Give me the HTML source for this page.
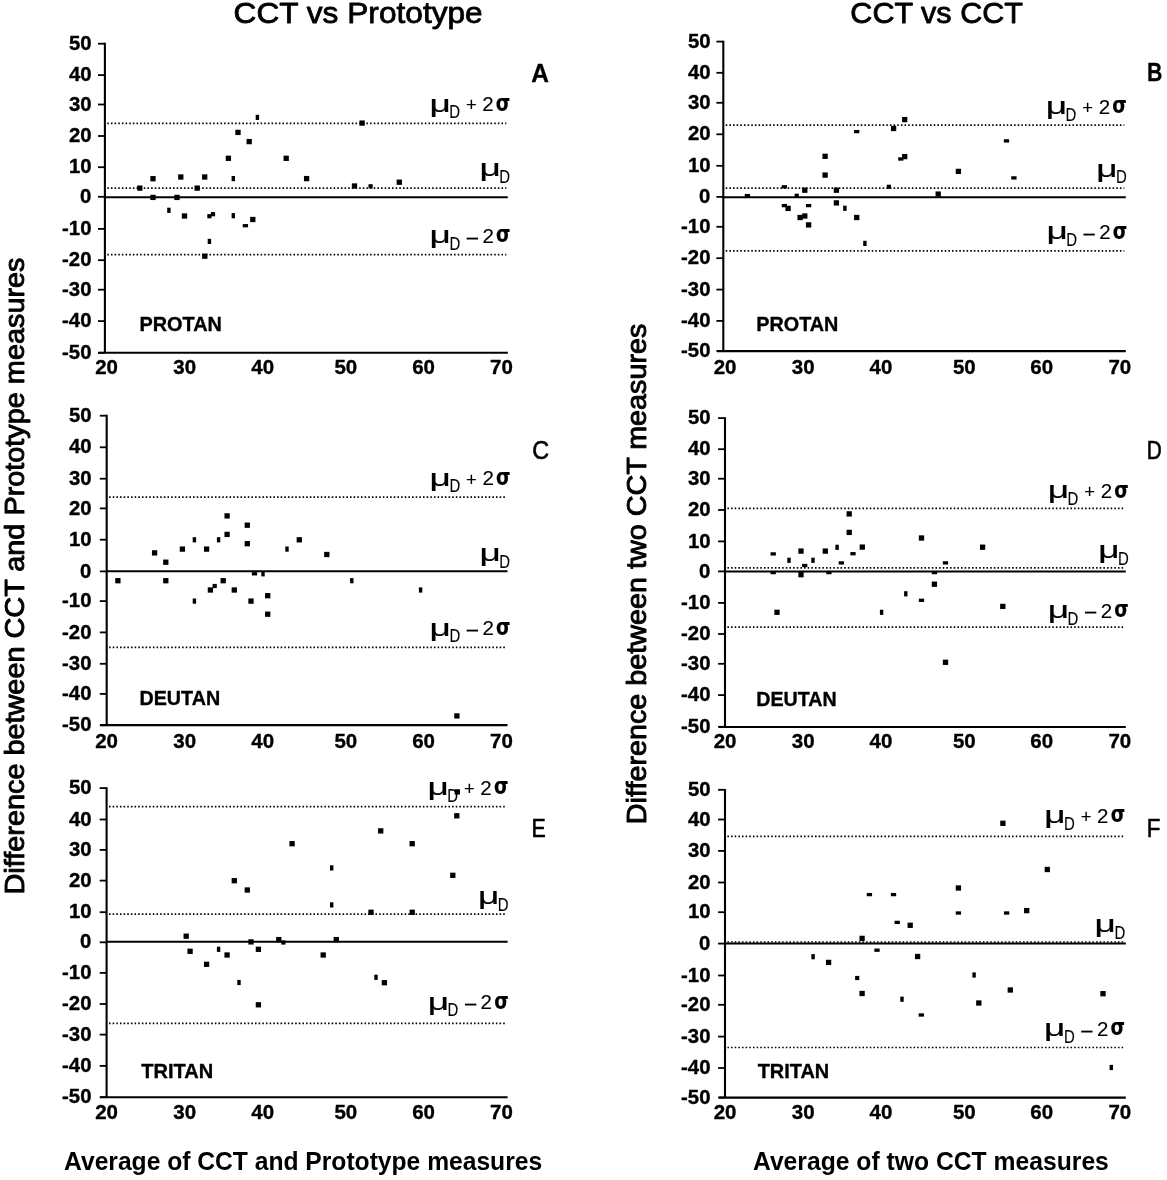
<!DOCTYPE html><html><head><meta charset="utf-8"><title>Bland-Altman plots: CCT vs Prototype and CCT vs CCT</title>
<style>html,body{margin:0;padding:0;background:#fff;width:1167px;height:1180px;overflow:hidden}svg{display:block}</style></head><body>
<svg width="1167" height="1180" viewBox="0 0 1167 1180">
<rect x="0" y="0" width="1167" height="1180" fill="#fff"/>
<g fill="#000">
<g stroke="#000" fill="none">
<line x1="104.9" y1="42.8" x2="104.9" y2="352.8" stroke-width="2.1"/>
<line x1="98.0" y1="43.7" x2="104.9" y2="43.7" stroke-width="1.8"/>
<line x1="98.0" y1="75.1" x2="104.9" y2="75.1" stroke-width="1.8"/>
<line x1="98.0" y1="104.5" x2="104.9" y2="104.5" stroke-width="1.8"/>
<line x1="98.0" y1="136" x2="104.9" y2="136" stroke-width="1.8"/>
<line x1="98.0" y1="167.2" x2="104.9" y2="167.2" stroke-width="1.8"/>
<line x1="98.0" y1="196.8" x2="104.9" y2="196.8" stroke-width="1.8"/>
<line x1="98.0" y1="228.9" x2="104.9" y2="228.9" stroke-width="1.8"/>
<line x1="98.0" y1="260.2" x2="104.9" y2="260.2" stroke-width="1.8"/>
<line x1="98.0" y1="289.7" x2="104.9" y2="289.7" stroke-width="1.8"/>
<line x1="98.0" y1="321.1" x2="104.9" y2="321.1" stroke-width="1.8"/>
<line x1="98.0" y1="352.8" x2="104.9" y2="352.8" stroke-width="1.8"/>
<line x1="98.2" y1="352.8" x2="507.8" y2="352.8" stroke-width="2.1"/>
<line x1="104.9" y1="197.3" x2="507.8" y2="197.3" stroke-width="2.0"/>
<line x1="107.3" y1="123.3" x2="506.3" y2="123.3" stroke-width="1.7" stroke-dasharray="1.55 2.1"/>
<line x1="107.3" y1="188.1" x2="506.3" y2="188.1" stroke-width="1.7" stroke-dasharray="1.55 2.1"/>
<line x1="107.3" y1="254.7" x2="506.3" y2="254.7" stroke-width="1.7" stroke-dasharray="1.55 2.1"/>
</g>
<rect x="137.15" y="185.45" width="5.3" height="5.3"/>
<rect x="150.35" y="176.05" width="5.3" height="5.3"/>
<rect x="150.35" y="194.75" width="5.3" height="5.3"/>
<rect x="167.20" y="207.70" width="3.4" height="5.2"/>
<rect x="174.35" y="194.75" width="5.3" height="5.3"/>
<rect x="178.15" y="174.35" width="5.3" height="5.3"/>
<rect x="181.85" y="213.35" width="5.3" height="5.3"/>
<rect x="194.55" y="185.45" width="5.3" height="5.3"/>
<rect x="202.05" y="174.35" width="5.3" height="5.3"/>
<rect x="202.15" y="253.55" width="5.3" height="5.3"/>
<rect x="207.70" y="238.80" width="3.4" height="5.2"/>
<rect x="207.30" y="214.10" width="4.2" height="4.2"/>
<rect x="210.90" y="212.10" width="4.2" height="4.2"/>
<rect x="225.75" y="155.65" width="5.3" height="5.3"/>
<rect x="231.60" y="176.00" width="3.4" height="5.2"/>
<rect x="231.60" y="213.10" width="3.4" height="5.2"/>
<rect x="235.35" y="129.75" width="5.3" height="5.3"/>
<rect x="246.55" y="138.95" width="5.3" height="5.3"/>
<rect x="242.75" y="224.05" width="5.3" height="3.3"/>
<rect x="250.15" y="216.85" width="5.3" height="5.3"/>
<rect x="255.70" y="114.80" width="3.4" height="5.2"/>
<rect x="283.55" y="155.65" width="5.3" height="5.3"/>
<rect x="303.95" y="175.95" width="5.3" height="5.3"/>
<rect x="359.45" y="120.45" width="5.3" height="5.3"/>
<rect x="351.85" y="183.35" width="5.3" height="5.3"/>
<rect x="368.50" y="184.20" width="4.2" height="4.2"/>
<rect x="396.65" y="179.55" width="5.3" height="5.3"/>
<g stroke="#000" fill="none">
<line x1="723.3" y1="40.7" x2="723.3" y2="351.1" stroke-width="2.1"/>
<line x1="716.4" y1="41.6" x2="723.3" y2="41.6" stroke-width="1.8"/>
<line x1="716.4" y1="72.8" x2="723.3" y2="72.8" stroke-width="1.8"/>
<line x1="716.4" y1="102.8" x2="723.3" y2="102.8" stroke-width="1.8"/>
<line x1="716.4" y1="134.3" x2="723.3" y2="134.3" stroke-width="1.8"/>
<line x1="716.4" y1="165.8" x2="723.3" y2="165.8" stroke-width="1.8"/>
<line x1="716.4" y1="196.9" x2="723.3" y2="196.9" stroke-width="1.8"/>
<line x1="716.4" y1="226.8" x2="723.3" y2="226.8" stroke-width="1.8"/>
<line x1="716.4" y1="258.2" x2="723.3" y2="258.2" stroke-width="1.8"/>
<line x1="716.4" y1="289.6" x2="723.3" y2="289.6" stroke-width="1.8"/>
<line x1="716.4" y1="320.9" x2="723.3" y2="320.9" stroke-width="1.8"/>
<line x1="716.4" y1="351.1" x2="723.3" y2="351.1" stroke-width="1.8"/>
<line x1="717.1" y1="351.1" x2="1125.8" y2="351.1" stroke-width="2.1"/>
<line x1="723.3" y1="197.3" x2="1125.8" y2="197.3" stroke-width="2.0"/>
<line x1="725.7" y1="125.1" x2="1124.3" y2="125.1" stroke-width="1.7" stroke-dasharray="1.55 2.1"/>
<line x1="725.7" y1="188.1" x2="1124.3" y2="188.1" stroke-width="1.7" stroke-dasharray="1.55 2.1"/>
<line x1="725.7" y1="250.9" x2="1124.3" y2="250.9" stroke-width="1.7" stroke-dasharray="1.55 2.1"/>
</g>
<rect x="744.75" y="193.95" width="5.3" height="3.3"/>
<rect x="781.75" y="185.15" width="5.3" height="3.3"/>
<rect x="781.75" y="203.95" width="5.3" height="3.3"/>
<rect x="785.45" y="205.75" width="5.3" height="5.3"/>
<rect x="794.60" y="193.70" width="4.2" height="4.2"/>
<rect x="802.15" y="187.55" width="5.3" height="5.3"/>
<rect x="797.45" y="214.85" width="5.3" height="5.3"/>
<rect x="802.15" y="213.35" width="5.3" height="5.3"/>
<rect x="805.95" y="203.95" width="5.3" height="3.3"/>
<rect x="805.95" y="222.25" width="5.3" height="5.3"/>
<rect x="822.45" y="153.65" width="5.3" height="5.3"/>
<rect x="822.45" y="172.45" width="5.3" height="5.3"/>
<rect x="833.75" y="187.55" width="5.3" height="5.3"/>
<rect x="833.75" y="200.25" width="5.3" height="5.3"/>
<rect x="843.20" y="205.70" width="3.4" height="5.2"/>
<rect x="854.05" y="129.95" width="5.3" height="3.3"/>
<rect x="854.05" y="214.85" width="5.3" height="5.3"/>
<rect x="863.20" y="240.80" width="3.4" height="5.2"/>
<rect x="890.95" y="125.85" width="5.3" height="5.3"/>
<rect x="886.80" y="184.70" width="4.2" height="4.2"/>
<rect x="902.05" y="116.95" width="5.3" height="5.3"/>
<rect x="902.05" y="153.95" width="5.3" height="5.3"/>
<rect x="898.15" y="157.35" width="5.3" height="3.3"/>
<rect x="935.55" y="191.45" width="5.3" height="5.3"/>
<rect x="955.75" y="168.75" width="5.3" height="5.3"/>
<rect x="1003.85" y="139.25" width="5.3" height="3.3"/>
<rect x="1011.25" y="176.25" width="5.3" height="3.3"/>
<g stroke="#000" fill="none">
<line x1="106.7" y1="414.8" x2="106.7" y2="725.1" stroke-width="2.1"/>
<line x1="99.8" y1="415.7" x2="106.7" y2="415.7" stroke-width="1.8"/>
<line x1="99.8" y1="447.3" x2="106.7" y2="447.3" stroke-width="1.8"/>
<line x1="99.8" y1="478.7" x2="106.7" y2="478.7" stroke-width="1.8"/>
<line x1="99.8" y1="508.4" x2="106.7" y2="508.4" stroke-width="1.8"/>
<line x1="99.8" y1="539.7" x2="106.7" y2="539.7" stroke-width="1.8"/>
<line x1="99.8" y1="571.4" x2="106.7" y2="571.4" stroke-width="1.8"/>
<line x1="99.8" y1="601.1" x2="106.7" y2="601.1" stroke-width="1.8"/>
<line x1="99.8" y1="632.4" x2="106.7" y2="632.4" stroke-width="1.8"/>
<line x1="99.8" y1="663.8" x2="106.7" y2="663.8" stroke-width="1.8"/>
<line x1="99.8" y1="693.9" x2="106.7" y2="693.9" stroke-width="1.8"/>
<line x1="99.8" y1="725.2" x2="106.7" y2="725.2" stroke-width="1.8"/>
<line x1="100.4" y1="725.1" x2="507.5" y2="725.1" stroke-width="2.1"/>
<line x1="106.7" y1="571.3" x2="507.5" y2="571.3" stroke-width="2.0"/>
<line x1="109.1" y1="497.1" x2="506.0" y2="497.1" stroke-width="1.7" stroke-dasharray="1.55 2.1"/>
<line x1="109.1" y1="647.4" x2="506.0" y2="647.4" stroke-width="1.7" stroke-dasharray="1.55 2.1"/>
</g>
<rect x="115.25" y="578.05" width="5.3" height="5.3"/>
<rect x="151.95" y="550.25" width="5.3" height="5.3"/>
<rect x="163.15" y="559.55" width="5.3" height="5.3"/>
<rect x="163.15" y="578.05" width="5.3" height="5.3"/>
<rect x="179.75" y="546.45" width="5.3" height="5.3"/>
<rect x="192.70" y="537.20" width="3.4" height="5.2"/>
<rect x="192.70" y="598.50" width="3.4" height="5.2"/>
<rect x="203.95" y="546.45" width="5.3" height="5.3"/>
<rect x="207.75" y="587.35" width="5.3" height="5.3"/>
<rect x="212.60" y="583.90" width="4.2" height="4.2"/>
<rect x="216.90" y="537.20" width="3.4" height="5.2"/>
<rect x="220.55" y="578.05" width="5.3" height="5.3"/>
<rect x="224.45" y="513.25" width="5.3" height="5.3"/>
<rect x="224.45" y="531.75" width="5.3" height="5.3"/>
<rect x="231.65" y="587.35" width="5.3" height="5.3"/>
<rect x="244.65" y="522.55" width="5.3" height="5.3"/>
<rect x="244.65" y="541.05" width="5.3" height="5.3"/>
<rect x="248.35" y="598.45" width="5.3" height="5.3"/>
<rect x="251.85" y="572.15" width="5.3" height="3.3"/>
<rect x="261.30" y="571.20" width="3.4" height="5.2"/>
<rect x="265.05" y="593.05" width="5.3" height="5.3"/>
<rect x="265.05" y="611.55" width="5.3" height="5.3"/>
<rect x="285.30" y="546.50" width="3.4" height="5.2"/>
<rect x="296.65" y="537.15" width="5.3" height="5.3"/>
<rect x="324.15" y="551.85" width="5.3" height="5.3"/>
<rect x="350.10" y="578.10" width="3.4" height="5.2"/>
<rect x="418.90" y="587.40" width="3.4" height="5.2"/>
<rect x="454.25" y="713.25" width="5.3" height="5.3"/>
<g stroke="#000" fill="none">
<line x1="725.0" y1="417.2" x2="725.0" y2="727.0" stroke-width="2.1"/>
<line x1="718.1" y1="418.1" x2="725.0" y2="418.1" stroke-width="1.8"/>
<line x1="718.1" y1="449.2" x2="725.0" y2="449.2" stroke-width="1.8"/>
<line x1="718.1" y1="478.7" x2="725.0" y2="478.7" stroke-width="1.8"/>
<line x1="718.1" y1="510" x2="725.0" y2="510" stroke-width="1.8"/>
<line x1="718.1" y1="541.4" x2="725.0" y2="541.4" stroke-width="1.8"/>
<line x1="718.1" y1="571.4" x2="725.0" y2="571.4" stroke-width="1.8"/>
<line x1="718.1" y1="602.9" x2="725.0" y2="602.9" stroke-width="1.8"/>
<line x1="718.1" y1="634" x2="725.0" y2="634" stroke-width="1.8"/>
<line x1="718.1" y1="663.8" x2="725.0" y2="663.8" stroke-width="1.8"/>
<line x1="718.1" y1="695.1" x2="725.0" y2="695.1" stroke-width="1.8"/>
<line x1="718.1" y1="726.8" x2="725.0" y2="726.8" stroke-width="1.8"/>
<line x1="718.9" y1="727.0" x2="1125.8" y2="727.0" stroke-width="2.1"/>
<line x1="725.0" y1="571.4" x2="1125.8" y2="571.4" stroke-width="2.0"/>
<line x1="727.4" y1="508.4" x2="1124.3" y2="508.4" stroke-width="1.7" stroke-dasharray="1.55 2.1"/>
<line x1="727.4" y1="567.9" x2="1124.3" y2="567.9" stroke-width="1.7" stroke-dasharray="1.55 2.1"/>
<line x1="727.4" y1="627.1" x2="1124.3" y2="627.1" stroke-width="1.7" stroke-dasharray="1.55 2.1"/>
</g>
<rect x="770.55" y="552.25" width="5.3" height="3.3"/>
<rect x="770.55" y="570.95" width="5.3" height="3.3"/>
<rect x="774.35" y="609.65" width="5.3" height="5.3"/>
<rect x="787.30" y="557.70" width="3.4" height="5.2"/>
<rect x="798.35" y="548.45" width="5.3" height="5.3"/>
<rect x="802.05" y="563.85" width="5.3" height="3.3"/>
<rect x="798.35" y="572.05" width="5.3" height="5.3"/>
<rect x="811.30" y="557.70" width="3.4" height="5.2"/>
<rect x="822.65" y="548.45" width="5.3" height="5.3"/>
<rect x="826.25" y="570.95" width="5.3" height="3.3"/>
<rect x="835.40" y="544.70" width="3.4" height="5.2"/>
<rect x="838.65" y="561.25" width="5.3" height="3.3"/>
<rect x="846.55" y="511.25" width="5.3" height="5.3"/>
<rect x="846.55" y="529.75" width="5.3" height="5.3"/>
<rect x="850.35" y="552.05" width="5.3" height="3.3"/>
<rect x="859.65" y="544.45" width="5.3" height="5.3"/>
<rect x="879.90" y="609.70" width="3.4" height="5.2"/>
<rect x="904.10" y="591.20" width="3.4" height="5.2"/>
<rect x="918.85" y="535.35" width="5.3" height="5.3"/>
<rect x="918.85" y="598.65" width="5.3" height="3.3"/>
<rect x="931.75" y="570.95" width="5.3" height="3.3"/>
<rect x="931.75" y="581.55" width="5.3" height="5.3"/>
<rect x="942.85" y="561.25" width="5.3" height="3.3"/>
<rect x="942.85" y="659.65" width="5.3" height="5.3"/>
<rect x="979.95" y="544.55" width="5.3" height="5.3"/>
<rect x="1000.15" y="603.75" width="5.3" height="5.3"/>
<g stroke="#000" fill="none">
<line x1="106.6" y1="787.2" x2="106.6" y2="1097.3" stroke-width="2.1"/>
<line x1="99.7" y1="788.1" x2="106.6" y2="788.1" stroke-width="1.8"/>
<line x1="99.7" y1="819.5" x2="106.6" y2="819.5" stroke-width="1.8"/>
<line x1="99.7" y1="849.9" x2="106.6" y2="849.9" stroke-width="1.8"/>
<line x1="99.7" y1="880.6" x2="106.6" y2="880.6" stroke-width="1.8"/>
<line x1="99.7" y1="912.2" x2="106.6" y2="912.2" stroke-width="1.8"/>
<line x1="99.7" y1="942.3" x2="106.6" y2="942.3" stroke-width="1.8"/>
<line x1="99.7" y1="972.9" x2="106.6" y2="972.9" stroke-width="1.8"/>
<line x1="99.7" y1="1004" x2="106.6" y2="1004" stroke-width="1.8"/>
<line x1="99.7" y1="1034.6" x2="106.6" y2="1034.6" stroke-width="1.8"/>
<line x1="99.7" y1="1065.9" x2="106.6" y2="1065.9" stroke-width="1.8"/>
<line x1="99.7" y1="1097.2" x2="106.6" y2="1097.2" stroke-width="1.8"/>
<line x1="100.2" y1="1097.3" x2="507.6" y2="1097.3" stroke-width="2.1"/>
<line x1="106.6" y1="941.7" x2="507.6" y2="941.7" stroke-width="2.0"/>
<line x1="109.0" y1="806.7" x2="506.1" y2="806.7" stroke-width="1.7" stroke-dasharray="1.55 2.1"/>
<line x1="109.0" y1="914.1" x2="506.1" y2="914.1" stroke-width="1.7" stroke-dasharray="1.55 2.1"/>
<line x1="109.0" y1="1023.4" x2="506.1" y2="1023.4" stroke-width="1.7" stroke-dasharray="1.55 2.1"/>
</g>
<rect x="231.65" y="878.05" width="5.3" height="5.3"/>
<rect x="244.65" y="887.35" width="5.3" height="5.3"/>
<rect x="183.55" y="933.55" width="5.3" height="5.3"/>
<rect x="248.35" y="939.25" width="5.3" height="5.3"/>
<rect x="276.15" y="936.95" width="5.3" height="5.3"/>
<rect x="281.30" y="940.40" width="4.2" height="4.2"/>
<rect x="187.45" y="948.65" width="5.3" height="5.3"/>
<rect x="203.95" y="961.65" width="5.3" height="5.3"/>
<rect x="216.90" y="946.70" width="3.4" height="5.2"/>
<rect x="224.45" y="952.35" width="5.3" height="5.3"/>
<rect x="237.30" y="979.90" width="3.4" height="5.2"/>
<rect x="255.75" y="946.65" width="5.3" height="5.3"/>
<rect x="255.75" y="1002.15" width="5.3" height="5.3"/>
<rect x="289.45" y="841.05" width="5.3" height="5.3"/>
<rect x="330.00" y="865.30" width="3.4" height="5.2"/>
<rect x="330.00" y="902.30" width="3.4" height="5.2"/>
<rect x="333.65" y="936.95" width="5.3" height="5.3"/>
<rect x="378.05" y="828.25" width="5.3" height="5.3"/>
<rect x="368.35" y="909.65" width="5.3" height="5.3"/>
<rect x="409.55" y="841.05" width="5.3" height="5.3"/>
<rect x="409.55" y="909.65" width="5.3" height="5.3"/>
<rect x="320.55" y="952.35" width="5.3" height="5.3"/>
<rect x="374.30" y="974.70" width="3.4" height="5.2"/>
<rect x="381.75" y="980.05" width="5.3" height="5.3"/>
<rect x="454.65" y="789.25" width="5.3" height="5.3"/>
<rect x="454.15" y="813.15" width="5.3" height="5.3"/>
<rect x="450.15" y="872.65" width="5.3" height="5.3"/>
<g stroke="#000" fill="none">
<line x1="725.0" y1="788.9" x2="725.0" y2="1097.6" stroke-width="2.1"/>
<line x1="718.1" y1="789.8" x2="725.0" y2="789.8" stroke-width="1.8"/>
<line x1="718.1" y1="819.5" x2="725.0" y2="819.5" stroke-width="1.8"/>
<line x1="718.1" y1="850.9" x2="725.0" y2="850.9" stroke-width="1.8"/>
<line x1="718.1" y1="882.5" x2="725.0" y2="882.5" stroke-width="1.8"/>
<line x1="718.1" y1="912.2" x2="725.0" y2="912.2" stroke-width="1.8"/>
<line x1="718.1" y1="943.6" x2="725.0" y2="943.6" stroke-width="1.8"/>
<line x1="718.1" y1="975.5" x2="725.0" y2="975.5" stroke-width="1.8"/>
<line x1="718.1" y1="1004.8" x2="725.0" y2="1004.8" stroke-width="1.8"/>
<line x1="718.1" y1="1036.6" x2="725.0" y2="1036.6" stroke-width="1.8"/>
<line x1="718.1" y1="1068" x2="725.0" y2="1068" stroke-width="1.8"/>
<line x1="718.1" y1="1097.5" x2="725.0" y2="1097.5" stroke-width="1.8"/>
<line x1="718.9" y1="1097.6" x2="1125.8" y2="1097.6" stroke-width="2.1"/>
<line x1="725.0" y1="943.6" x2="1125.8" y2="943.6" stroke-width="2.0"/>
<line x1="727.4" y1="836.3" x2="1124.3" y2="836.3" stroke-width="1.7" stroke-dasharray="1.55 2.1"/>
<line x1="727.4" y1="942.0" x2="1124.3" y2="942.0" stroke-width="1.7" stroke-dasharray="1.55 2.1"/>
<line x1="727.4" y1="1047.5" x2="1124.3" y2="1047.5" stroke-width="1.7" stroke-dasharray="1.55 2.1"/>
</g>
<rect x="811.40" y="954.10" width="3.4" height="5.2"/>
<rect x="825.95" y="959.75" width="5.3" height="5.3"/>
<rect x="855.10" y="975.90" width="4.2" height="4.2"/>
<rect x="859.45" y="935.75" width="5.3" height="5.3"/>
<rect x="859.45" y="990.85" width="5.3" height="5.3"/>
<rect x="866.75" y="892.95" width="5.3" height="3.3"/>
<rect x="874.35" y="948.55" width="5.3" height="3.3"/>
<rect x="890.85" y="892.95" width="5.3" height="3.3"/>
<rect x="894.55" y="920.75" width="5.3" height="3.3"/>
<rect x="900.30" y="996.60" width="3.4" height="5.2"/>
<rect x="907.55" y="922.65" width="5.3" height="5.3"/>
<rect x="914.95" y="953.85" width="5.3" height="5.3"/>
<rect x="918.65" y="1013.35" width="5.3" height="3.3"/>
<rect x="955.75" y="885.35" width="5.3" height="5.3"/>
<rect x="955.75" y="911.35" width="5.3" height="3.3"/>
<rect x="972.40" y="972.40" width="3.4" height="5.2"/>
<rect x="976.15" y="1000.35" width="5.3" height="5.3"/>
<rect x="1000.25" y="820.65" width="5.3" height="5.3"/>
<rect x="1003.95" y="911.35" width="5.3" height="3.3"/>
<rect x="1007.65" y="987.35" width="5.3" height="5.3"/>
<rect x="1024.05" y="907.95" width="5.3" height="5.3"/>
<rect x="1044.65" y="866.85" width="5.3" height="5.3"/>
<rect x="1100.35" y="991.05" width="5.3" height="5.3"/>
<rect x="1109.60" y="1064.90" width="3.4" height="5.2"/>
<text transform="translate(233.52 23.08) scale(1.0213 0.9809)" font-family="'Liberation Sans', sans-serif" font-weight="normal" font-size="31" stroke="#000" stroke-width="0.8" stroke-linejoin="round">CCT vs Prototype</text>
<text transform="translate(850.37 23.26) scale(0.9856 0.9802)" font-family="'Liberation Sans', sans-serif" font-weight="normal" font-size="31" stroke="#000" stroke-width="0.8" stroke-linejoin="round">CCT vs CCT</text>
<text transform="translate(23.80 894.50) rotate(-90) scale(1.0308 0.9593)" font-family="'Liberation Sans', sans-serif" font-weight="normal" font-size="28" stroke="#000" stroke-width="0.95" stroke-linejoin="round">Difference between CCT and Prototype measures</text>
<text transform="translate(646.08 824.20) rotate(-90) scale(1.0269 0.9581)" font-family="'Liberation Sans', sans-serif" font-weight="normal" font-size="28" stroke="#000" stroke-width="0.95" stroke-linejoin="round">Difference between two CCT measures</text>
<text transform="translate(64.06 1170.47) scale(0.9855 1.0151)" font-family="'Liberation Sans', sans-serif" font-weight="bold" font-size="25">Average of CCT and Prototype measures</text>
<text transform="translate(752.96 1170.47) scale(0.9883 1.0151)" font-family="'Liberation Sans', sans-serif" font-weight="bold" font-size="25">Average of two CCT measures</text>
<text transform="translate(68.92 49.80) scale(1.0175)" font-family="'Liberation Sans', sans-serif" font-weight="bold" font-size="20" stroke="#000" stroke-width="0.35" stroke-linejoin="round">50</text>
<text transform="translate(68.92 81.20) scale(1.0175)" font-family="'Liberation Sans', sans-serif" font-weight="bold" font-size="20" stroke="#000" stroke-width="0.35" stroke-linejoin="round">40</text>
<text transform="translate(68.92 110.60) scale(1.0175)" font-family="'Liberation Sans', sans-serif" font-weight="bold" font-size="20" stroke="#000" stroke-width="0.35" stroke-linejoin="round">30</text>
<text transform="translate(68.92 142.10) scale(1.0175)" font-family="'Liberation Sans', sans-serif" font-weight="bold" font-size="20" stroke="#000" stroke-width="0.35" stroke-linejoin="round">20</text>
<text transform="translate(68.92 173.30) scale(1.0175)" font-family="'Liberation Sans', sans-serif" font-weight="bold" font-size="20" stroke="#000" stroke-width="0.35" stroke-linejoin="round">10</text>
<text transform="translate(80.12 202.90) scale(1.0175)" font-family="'Liberation Sans', sans-serif" font-weight="bold" font-size="20" stroke="#000" stroke-width="0.35" stroke-linejoin="round">0</text>
<text transform="translate(62.05 235.00) scale(1.0175)" font-family="'Liberation Sans', sans-serif" font-weight="bold" font-size="20" stroke="#000" stroke-width="0.35" stroke-linejoin="round">-10</text>
<text transform="translate(62.05 266.30) scale(1.0175)" font-family="'Liberation Sans', sans-serif" font-weight="bold" font-size="20" stroke="#000" stroke-width="0.35" stroke-linejoin="round">-20</text>
<text transform="translate(62.05 295.80) scale(1.0175)" font-family="'Liberation Sans', sans-serif" font-weight="bold" font-size="20" stroke="#000" stroke-width="0.35" stroke-linejoin="round">-30</text>
<text transform="translate(62.05 327.20) scale(1.0175)" font-family="'Liberation Sans', sans-serif" font-weight="bold" font-size="20" stroke="#000" stroke-width="0.35" stroke-linejoin="round">-40</text>
<text transform="translate(62.05 358.90) scale(1.0175)" font-family="'Liberation Sans', sans-serif" font-weight="bold" font-size="20" stroke="#000" stroke-width="0.35" stroke-linejoin="round">-50</text>
<text transform="translate(95.23 373.64) scale(1.0246)" font-family="'Liberation Sans', sans-serif" font-weight="bold" font-size="20" stroke="#000" stroke-width="0.35" stroke-linejoin="round">20</text>
<text transform="translate(173.36 373.64) scale(1.0246)" font-family="'Liberation Sans', sans-serif" font-weight="bold" font-size="20" stroke="#000" stroke-width="0.35" stroke-linejoin="round">30</text>
<text transform="translate(251.26 373.64) scale(1.0246)" font-family="'Liberation Sans', sans-serif" font-weight="bold" font-size="20" stroke="#000" stroke-width="0.35" stroke-linejoin="round">40</text>
<text transform="translate(334.43 373.64) scale(1.0246)" font-family="'Liberation Sans', sans-serif" font-weight="bold" font-size="20" stroke="#000" stroke-width="0.35" stroke-linejoin="round">50</text>
<text transform="translate(412.13 373.64) scale(1.0246)" font-family="'Liberation Sans', sans-serif" font-weight="bold" font-size="20" stroke="#000" stroke-width="0.35" stroke-linejoin="round">60</text>
<text transform="translate(490.00 373.64) scale(1.0246)" font-family="'Liberation Sans', sans-serif" font-weight="bold" font-size="20" stroke="#000" stroke-width="0.35" stroke-linejoin="round">70</text>
<text transform="translate(531.21 81.60) scale(0.9824 1.0667)" font-family="'Liberation Sans', sans-serif" font-weight="bold" font-size="25" stroke="#000" stroke-width="0.3" stroke-linejoin="round">A</text>
<text transform="translate(139.46 330.75) scale(0.9950 0.9895)" font-family="'Liberation Sans', sans-serif" font-weight="bold" font-size="20" stroke="#000" stroke-width="0.35" stroke-linejoin="round">PROTAN</text>
<text transform="translate(429.39 111.56) scale(1.6098 1.0746)" font-family="'Liberation Sans', sans-serif" font-weight="normal" font-size="23" stroke="#000" stroke-width="0.2" stroke-linejoin="round">μ</text>
<text transform="translate(449.20 118.20) scale(0.8780 1.0298)" font-family="'Liberation Sans', sans-serif" font-weight="normal" font-size="17" stroke="#000" stroke-width="0.1" stroke-linejoin="round">D</text>
<text transform="translate(465.89 111.32) scale(1.0824 1.0824)" font-family="'Liberation Sans', sans-serif" font-weight="normal" font-size="17" stroke="#000" stroke-width="0.1" stroke-linejoin="round">+</text>
<text transform="translate(482.27 111.20) scale(1.0270 1.0286)" font-family="'Liberation Sans', sans-serif" font-weight="normal" font-size="20" stroke="#000" stroke-width="0.1" stroke-linejoin="round">2</text>
<text transform="translate(495.87 110.70) scale(0.8459 1.0080)" font-family="'DejaVu Sans', sans-serif" font-weight="bold" font-size="22" stroke="#000" stroke-width="0.2" stroke-linejoin="round">σ</text>
<text transform="translate(479.39 176.36) scale(1.6098 1.0746)" font-family="'Liberation Sans', sans-serif" font-weight="normal" font-size="23" stroke="#000" stroke-width="0.2" stroke-linejoin="round">μ</text>
<text transform="translate(499.20 183.00) scale(0.8780 1.0298)" font-family="'Liberation Sans', sans-serif" font-weight="normal" font-size="17" stroke="#000" stroke-width="0.1" stroke-linejoin="round">D</text>
<text transform="translate(429.59 242.96) scale(1.6098 1.0746)" font-family="'Liberation Sans', sans-serif" font-weight="normal" font-size="23" stroke="#000" stroke-width="0.2" stroke-linejoin="round">μ</text>
<text transform="translate(449.40 249.60) scale(0.8780 1.0298)" font-family="'Liberation Sans', sans-serif" font-weight="normal" font-size="17" stroke="#000" stroke-width="0.1" stroke-linejoin="round">D</text>
<text transform="translate(466.80 243.53) scale(1.0133 1.0667)" font-family="'Liberation Sans', sans-serif" font-weight="normal" font-size="20" stroke="#000" stroke-width="0.1" stroke-linejoin="round">–</text>
<text transform="translate(482.47 242.60) scale(1.0270 1.0286)" font-family="'Liberation Sans', sans-serif" font-weight="normal" font-size="20" stroke="#000" stroke-width="0.1" stroke-linejoin="round">2</text>
<text transform="translate(496.07 242.10) scale(0.8459 1.0080)" font-family="'DejaVu Sans', sans-serif" font-weight="bold" font-size="22" stroke="#000" stroke-width="0.2" stroke-linejoin="round">σ</text>
<text transform="translate(687.92 47.70) scale(1.0175)" font-family="'Liberation Sans', sans-serif" font-weight="bold" font-size="20" stroke="#000" stroke-width="0.35" stroke-linejoin="round">50</text>
<text transform="translate(687.92 78.90) scale(1.0175)" font-family="'Liberation Sans', sans-serif" font-weight="bold" font-size="20" stroke="#000" stroke-width="0.35" stroke-linejoin="round">40</text>
<text transform="translate(687.92 108.90) scale(1.0175)" font-family="'Liberation Sans', sans-serif" font-weight="bold" font-size="20" stroke="#000" stroke-width="0.35" stroke-linejoin="round">30</text>
<text transform="translate(687.92 140.40) scale(1.0175)" font-family="'Liberation Sans', sans-serif" font-weight="bold" font-size="20" stroke="#000" stroke-width="0.35" stroke-linejoin="round">20</text>
<text transform="translate(687.92 171.90) scale(1.0175)" font-family="'Liberation Sans', sans-serif" font-weight="bold" font-size="20" stroke="#000" stroke-width="0.35" stroke-linejoin="round">10</text>
<text transform="translate(699.12 203.00) scale(1.0175)" font-family="'Liberation Sans', sans-serif" font-weight="bold" font-size="20" stroke="#000" stroke-width="0.35" stroke-linejoin="round">0</text>
<text transform="translate(681.05 232.90) scale(1.0175)" font-family="'Liberation Sans', sans-serif" font-weight="bold" font-size="20" stroke="#000" stroke-width="0.35" stroke-linejoin="round">-10</text>
<text transform="translate(681.05 264.30) scale(1.0175)" font-family="'Liberation Sans', sans-serif" font-weight="bold" font-size="20" stroke="#000" stroke-width="0.35" stroke-linejoin="round">-20</text>
<text transform="translate(681.05 295.70) scale(1.0175)" font-family="'Liberation Sans', sans-serif" font-weight="bold" font-size="20" stroke="#000" stroke-width="0.35" stroke-linejoin="round">-30</text>
<text transform="translate(681.05 327.00) scale(1.0175)" font-family="'Liberation Sans', sans-serif" font-weight="bold" font-size="20" stroke="#000" stroke-width="0.35" stroke-linejoin="round">-40</text>
<text transform="translate(681.05 357.20) scale(1.0175)" font-family="'Liberation Sans', sans-serif" font-weight="bold" font-size="20" stroke="#000" stroke-width="0.35" stroke-linejoin="round">-50</text>
<text transform="translate(713.73 373.64) scale(1.0246)" font-family="'Liberation Sans', sans-serif" font-weight="bold" font-size="20" stroke="#000" stroke-width="0.35" stroke-linejoin="round">20</text>
<text transform="translate(791.76 373.64) scale(1.0246)" font-family="'Liberation Sans', sans-serif" font-weight="bold" font-size="20" stroke="#000" stroke-width="0.35" stroke-linejoin="round">30</text>
<text transform="translate(869.56 373.64) scale(1.0246)" font-family="'Liberation Sans', sans-serif" font-weight="bold" font-size="20" stroke="#000" stroke-width="0.35" stroke-linejoin="round">40</text>
<text transform="translate(952.93 373.64) scale(1.0246)" font-family="'Liberation Sans', sans-serif" font-weight="bold" font-size="20" stroke="#000" stroke-width="0.35" stroke-linejoin="round">50</text>
<text transform="translate(1030.33 373.64) scale(1.0246)" font-family="'Liberation Sans', sans-serif" font-weight="bold" font-size="20" stroke="#000" stroke-width="0.35" stroke-linejoin="round">60</text>
<text transform="translate(1108.40 373.64) scale(1.0246)" font-family="'Liberation Sans', sans-serif" font-weight="bold" font-size="20" stroke="#000" stroke-width="0.35" stroke-linejoin="round">70</text>
<text transform="translate(1147.02 81.40) scale(0.8516 1.0435)" font-family="'Liberation Sans', sans-serif" font-weight="bold" font-size="25" stroke="#000" stroke-width="0.3" stroke-linejoin="round">B</text>
<text transform="translate(756.26 331.15) scale(0.9901 1.0105)" font-family="'Liberation Sans', sans-serif" font-weight="bold" font-size="20" stroke="#000" stroke-width="0.35" stroke-linejoin="round">PROTAN</text>
<text transform="translate(1045.79 113.96) scale(1.6098 1.0746)" font-family="'Liberation Sans', sans-serif" font-weight="normal" font-size="23" stroke="#000" stroke-width="0.2" stroke-linejoin="round">μ</text>
<text transform="translate(1065.60 120.60) scale(0.8780 1.0298)" font-family="'Liberation Sans', sans-serif" font-weight="normal" font-size="17" stroke="#000" stroke-width="0.1" stroke-linejoin="round">D</text>
<text transform="translate(1082.29 113.72) scale(1.0824 1.0824)" font-family="'Liberation Sans', sans-serif" font-weight="normal" font-size="17" stroke="#000" stroke-width="0.1" stroke-linejoin="round">+</text>
<text transform="translate(1098.67 113.60) scale(1.0270 1.0286)" font-family="'Liberation Sans', sans-serif" font-weight="normal" font-size="20" stroke="#000" stroke-width="0.1" stroke-linejoin="round">2</text>
<text transform="translate(1112.27 113.10) scale(0.8459 1.0080)" font-family="'DejaVu Sans', sans-serif" font-weight="bold" font-size="22" stroke="#000" stroke-width="0.2" stroke-linejoin="round">σ</text>
<text transform="translate(1096.29 176.66) scale(1.6098 1.0746)" font-family="'Liberation Sans', sans-serif" font-weight="normal" font-size="23" stroke="#000" stroke-width="0.2" stroke-linejoin="round">μ</text>
<text transform="translate(1116.10 183.30) scale(0.8780 1.0298)" font-family="'Liberation Sans', sans-serif" font-weight="normal" font-size="17" stroke="#000" stroke-width="0.1" stroke-linejoin="round">D</text>
<text transform="translate(1046.39 239.46) scale(1.6098 1.0746)" font-family="'Liberation Sans', sans-serif" font-weight="normal" font-size="23" stroke="#000" stroke-width="0.2" stroke-linejoin="round">μ</text>
<text transform="translate(1066.20 246.10) scale(0.8780 1.0298)" font-family="'Liberation Sans', sans-serif" font-weight="normal" font-size="17" stroke="#000" stroke-width="0.1" stroke-linejoin="round">D</text>
<text transform="translate(1083.60 240.03) scale(1.0133 1.0667)" font-family="'Liberation Sans', sans-serif" font-weight="normal" font-size="20" stroke="#000" stroke-width="0.1" stroke-linejoin="round">–</text>
<text transform="translate(1099.27 239.10) scale(1.0270 1.0286)" font-family="'Liberation Sans', sans-serif" font-weight="normal" font-size="20" stroke="#000" stroke-width="0.1" stroke-linejoin="round">2</text>
<text transform="translate(1112.87 238.60) scale(0.8459 1.0080)" font-family="'DejaVu Sans', sans-serif" font-weight="bold" font-size="22" stroke="#000" stroke-width="0.2" stroke-linejoin="round">σ</text>
<text transform="translate(68.92 421.80) scale(1.0175)" font-family="'Liberation Sans', sans-serif" font-weight="bold" font-size="20" stroke="#000" stroke-width="0.35" stroke-linejoin="round">50</text>
<text transform="translate(68.92 453.40) scale(1.0175)" font-family="'Liberation Sans', sans-serif" font-weight="bold" font-size="20" stroke="#000" stroke-width="0.35" stroke-linejoin="round">40</text>
<text transform="translate(68.92 484.80) scale(1.0175)" font-family="'Liberation Sans', sans-serif" font-weight="bold" font-size="20" stroke="#000" stroke-width="0.35" stroke-linejoin="round">30</text>
<text transform="translate(68.92 514.50) scale(1.0175)" font-family="'Liberation Sans', sans-serif" font-weight="bold" font-size="20" stroke="#000" stroke-width="0.35" stroke-linejoin="round">20</text>
<text transform="translate(68.92 545.80) scale(1.0175)" font-family="'Liberation Sans', sans-serif" font-weight="bold" font-size="20" stroke="#000" stroke-width="0.35" stroke-linejoin="round">10</text>
<text transform="translate(80.12 577.50) scale(1.0175)" font-family="'Liberation Sans', sans-serif" font-weight="bold" font-size="20" stroke="#000" stroke-width="0.35" stroke-linejoin="round">0</text>
<text transform="translate(62.05 607.20) scale(1.0175)" font-family="'Liberation Sans', sans-serif" font-weight="bold" font-size="20" stroke="#000" stroke-width="0.35" stroke-linejoin="round">-10</text>
<text transform="translate(62.05 638.50) scale(1.0175)" font-family="'Liberation Sans', sans-serif" font-weight="bold" font-size="20" stroke="#000" stroke-width="0.35" stroke-linejoin="round">-20</text>
<text transform="translate(62.05 669.90) scale(1.0175)" font-family="'Liberation Sans', sans-serif" font-weight="bold" font-size="20" stroke="#000" stroke-width="0.35" stroke-linejoin="round">-30</text>
<text transform="translate(62.05 700.00) scale(1.0175)" font-family="'Liberation Sans', sans-serif" font-weight="bold" font-size="20" stroke="#000" stroke-width="0.35" stroke-linejoin="round">-40</text>
<text transform="translate(62.05 731.30) scale(1.0175)" font-family="'Liberation Sans', sans-serif" font-weight="bold" font-size="20" stroke="#000" stroke-width="0.35" stroke-linejoin="round">-50</text>
<text transform="translate(95.23 748.34) scale(1.0246)" font-family="'Liberation Sans', sans-serif" font-weight="bold" font-size="20" stroke="#000" stroke-width="0.35" stroke-linejoin="round">20</text>
<text transform="translate(173.36 748.34) scale(1.0246)" font-family="'Liberation Sans', sans-serif" font-weight="bold" font-size="20" stroke="#000" stroke-width="0.35" stroke-linejoin="round">30</text>
<text transform="translate(251.26 748.34) scale(1.0246)" font-family="'Liberation Sans', sans-serif" font-weight="bold" font-size="20" stroke="#000" stroke-width="0.35" stroke-linejoin="round">40</text>
<text transform="translate(334.43 748.34) scale(1.0246)" font-family="'Liberation Sans', sans-serif" font-weight="bold" font-size="20" stroke="#000" stroke-width="0.35" stroke-linejoin="round">50</text>
<text transform="translate(412.13 748.34) scale(1.0246)" font-family="'Liberation Sans', sans-serif" font-weight="bold" font-size="20" stroke="#000" stroke-width="0.35" stroke-linejoin="round">60</text>
<text transform="translate(490.00 748.34) scale(1.0246)" font-family="'Liberation Sans', sans-serif" font-weight="bold" font-size="20" stroke="#000" stroke-width="0.35" stroke-linejoin="round">70</text>
<text transform="translate(532.26 459.00) scale(0.9354 1.0082)" font-family="'Liberation Sans', sans-serif" font-weight="normal" font-size="25" stroke="#000" stroke-width="0.6" stroke-linejoin="round">C</text>
<text transform="translate(139.47 705.44) scale(0.9862 1.0246)" font-family="'Liberation Sans', sans-serif" font-weight="bold" font-size="20" stroke="#000" stroke-width="0.35" stroke-linejoin="round">DEUTAN</text>
<text transform="translate(429.59 485.76) scale(1.6098 1.0746)" font-family="'Liberation Sans', sans-serif" font-weight="normal" font-size="23" stroke="#000" stroke-width="0.2" stroke-linejoin="round">μ</text>
<text transform="translate(449.40 492.40) scale(0.8780 1.0298)" font-family="'Liberation Sans', sans-serif" font-weight="normal" font-size="17" stroke="#000" stroke-width="0.1" stroke-linejoin="round">D</text>
<text transform="translate(466.09 485.52) scale(1.0824 1.0824)" font-family="'Liberation Sans', sans-serif" font-weight="normal" font-size="17" stroke="#000" stroke-width="0.1" stroke-linejoin="round">+</text>
<text transform="translate(482.47 485.40) scale(1.0270 1.0286)" font-family="'Liberation Sans', sans-serif" font-weight="normal" font-size="20" stroke="#000" stroke-width="0.1" stroke-linejoin="round">2</text>
<text transform="translate(496.07 484.90) scale(0.8459 1.0080)" font-family="'DejaVu Sans', sans-serif" font-weight="bold" font-size="22" stroke="#000" stroke-width="0.2" stroke-linejoin="round">σ</text>
<text transform="translate(479.39 561.36) scale(1.6098 1.0746)" font-family="'Liberation Sans', sans-serif" font-weight="normal" font-size="23" stroke="#000" stroke-width="0.2" stroke-linejoin="round">μ</text>
<text transform="translate(499.20 568.00) scale(0.8780 1.0298)" font-family="'Liberation Sans', sans-serif" font-weight="normal" font-size="17" stroke="#000" stroke-width="0.1" stroke-linejoin="round">D</text>
<text transform="translate(429.59 635.76) scale(1.6098 1.0746)" font-family="'Liberation Sans', sans-serif" font-weight="normal" font-size="23" stroke="#000" stroke-width="0.2" stroke-linejoin="round">μ</text>
<text transform="translate(449.40 642.40) scale(0.8780 1.0298)" font-family="'Liberation Sans', sans-serif" font-weight="normal" font-size="17" stroke="#000" stroke-width="0.1" stroke-linejoin="round">D</text>
<text transform="translate(466.80 636.33) scale(1.0133 1.0667)" font-family="'Liberation Sans', sans-serif" font-weight="normal" font-size="20" stroke="#000" stroke-width="0.1" stroke-linejoin="round">–</text>
<text transform="translate(482.47 635.40) scale(1.0270 1.0286)" font-family="'Liberation Sans', sans-serif" font-weight="normal" font-size="20" stroke="#000" stroke-width="0.1" stroke-linejoin="round">2</text>
<text transform="translate(496.07 634.90) scale(0.8459 1.0080)" font-family="'DejaVu Sans', sans-serif" font-weight="bold" font-size="22" stroke="#000" stroke-width="0.2" stroke-linejoin="round">σ</text>
<text transform="translate(687.92 424.20) scale(1.0175)" font-family="'Liberation Sans', sans-serif" font-weight="bold" font-size="20" stroke="#000" stroke-width="0.35" stroke-linejoin="round">50</text>
<text transform="translate(687.92 455.30) scale(1.0175)" font-family="'Liberation Sans', sans-serif" font-weight="bold" font-size="20" stroke="#000" stroke-width="0.35" stroke-linejoin="round">40</text>
<text transform="translate(687.92 484.80) scale(1.0175)" font-family="'Liberation Sans', sans-serif" font-weight="bold" font-size="20" stroke="#000" stroke-width="0.35" stroke-linejoin="round">30</text>
<text transform="translate(687.92 516.10) scale(1.0175)" font-family="'Liberation Sans', sans-serif" font-weight="bold" font-size="20" stroke="#000" stroke-width="0.35" stroke-linejoin="round">20</text>
<text transform="translate(687.92 547.50) scale(1.0175)" font-family="'Liberation Sans', sans-serif" font-weight="bold" font-size="20" stroke="#000" stroke-width="0.35" stroke-linejoin="round">10</text>
<text transform="translate(699.12 577.50) scale(1.0175)" font-family="'Liberation Sans', sans-serif" font-weight="bold" font-size="20" stroke="#000" stroke-width="0.35" stroke-linejoin="round">0</text>
<text transform="translate(681.05 609.00) scale(1.0175)" font-family="'Liberation Sans', sans-serif" font-weight="bold" font-size="20" stroke="#000" stroke-width="0.35" stroke-linejoin="round">-10</text>
<text transform="translate(681.05 640.10) scale(1.0175)" font-family="'Liberation Sans', sans-serif" font-weight="bold" font-size="20" stroke="#000" stroke-width="0.35" stroke-linejoin="round">-20</text>
<text transform="translate(681.05 669.90) scale(1.0175)" font-family="'Liberation Sans', sans-serif" font-weight="bold" font-size="20" stroke="#000" stroke-width="0.35" stroke-linejoin="round">-30</text>
<text transform="translate(681.05 701.20) scale(1.0175)" font-family="'Liberation Sans', sans-serif" font-weight="bold" font-size="20" stroke="#000" stroke-width="0.35" stroke-linejoin="round">-40</text>
<text transform="translate(681.05 732.90) scale(1.0175)" font-family="'Liberation Sans', sans-serif" font-weight="bold" font-size="20" stroke="#000" stroke-width="0.35" stroke-linejoin="round">-50</text>
<text transform="translate(713.73 748.44) scale(1.0246)" font-family="'Liberation Sans', sans-serif" font-weight="bold" font-size="20" stroke="#000" stroke-width="0.35" stroke-linejoin="round">20</text>
<text transform="translate(791.76 748.44) scale(1.0246)" font-family="'Liberation Sans', sans-serif" font-weight="bold" font-size="20" stroke="#000" stroke-width="0.35" stroke-linejoin="round">30</text>
<text transform="translate(869.56 748.44) scale(1.0246)" font-family="'Liberation Sans', sans-serif" font-weight="bold" font-size="20" stroke="#000" stroke-width="0.35" stroke-linejoin="round">40</text>
<text transform="translate(952.93 748.44) scale(1.0246)" font-family="'Liberation Sans', sans-serif" font-weight="bold" font-size="20" stroke="#000" stroke-width="0.35" stroke-linejoin="round">50</text>
<text transform="translate(1030.33 748.44) scale(1.0246)" font-family="'Liberation Sans', sans-serif" font-weight="bold" font-size="20" stroke="#000" stroke-width="0.35" stroke-linejoin="round">60</text>
<text transform="translate(1108.40 748.44) scale(1.0246)" font-family="'Liberation Sans', sans-serif" font-weight="bold" font-size="20" stroke="#000" stroke-width="0.35" stroke-linejoin="round">70</text>
<text transform="translate(1146.84 458.95) scale(0.8323 1.0141)" font-family="'Liberation Sans', sans-serif" font-weight="normal" font-size="25" stroke="#000" stroke-width="0.6" stroke-linejoin="round">D</text>
<text transform="translate(756.27 705.55) scale(0.9824 1.0035)" font-family="'Liberation Sans', sans-serif" font-weight="bold" font-size="20" stroke="#000" stroke-width="0.35" stroke-linejoin="round">DEUTAN</text>
<text transform="translate(1047.79 498.46) scale(1.6098 1.0746)" font-family="'Liberation Sans', sans-serif" font-weight="normal" font-size="23" stroke="#000" stroke-width="0.2" stroke-linejoin="round">μ</text>
<text transform="translate(1067.60 505.10) scale(0.8780 1.0298)" font-family="'Liberation Sans', sans-serif" font-weight="normal" font-size="17" stroke="#000" stroke-width="0.1" stroke-linejoin="round">D</text>
<text transform="translate(1084.29 498.22) scale(1.0824 1.0824)" font-family="'Liberation Sans', sans-serif" font-weight="normal" font-size="17" stroke="#000" stroke-width="0.1" stroke-linejoin="round">+</text>
<text transform="translate(1100.67 498.10) scale(1.0270 1.0286)" font-family="'Liberation Sans', sans-serif" font-weight="normal" font-size="20" stroke="#000" stroke-width="0.1" stroke-linejoin="round">2</text>
<text transform="translate(1114.27 497.60) scale(0.8459 1.0080)" font-family="'DejaVu Sans', sans-serif" font-weight="bold" font-size="22" stroke="#000" stroke-width="0.2" stroke-linejoin="round">σ</text>
<text transform="translate(1098.19 558.06) scale(1.6098 1.0746)" font-family="'Liberation Sans', sans-serif" font-weight="normal" font-size="23" stroke="#000" stroke-width="0.2" stroke-linejoin="round">μ</text>
<text transform="translate(1118.00 564.70) scale(0.8780 1.0298)" font-family="'Liberation Sans', sans-serif" font-weight="normal" font-size="17" stroke="#000" stroke-width="0.1" stroke-linejoin="round">D</text>
<text transform="translate(1047.79 617.86) scale(1.6098 1.0746)" font-family="'Liberation Sans', sans-serif" font-weight="normal" font-size="23" stroke="#000" stroke-width="0.2" stroke-linejoin="round">μ</text>
<text transform="translate(1067.60 624.50) scale(0.8780 1.0298)" font-family="'Liberation Sans', sans-serif" font-weight="normal" font-size="17" stroke="#000" stroke-width="0.1" stroke-linejoin="round">D</text>
<text transform="translate(1085.00 618.43) scale(1.0133 1.0667)" font-family="'Liberation Sans', sans-serif" font-weight="normal" font-size="20" stroke="#000" stroke-width="0.1" stroke-linejoin="round">–</text>
<text transform="translate(1100.67 617.50) scale(1.0270 1.0286)" font-family="'Liberation Sans', sans-serif" font-weight="normal" font-size="20" stroke="#000" stroke-width="0.1" stroke-linejoin="round">2</text>
<text transform="translate(1114.27 617.00) scale(0.8459 1.0080)" font-family="'DejaVu Sans', sans-serif" font-weight="bold" font-size="22" stroke="#000" stroke-width="0.2" stroke-linejoin="round">σ</text>
<text transform="translate(68.92 794.20) scale(1.0175)" font-family="'Liberation Sans', sans-serif" font-weight="bold" font-size="20" stroke="#000" stroke-width="0.35" stroke-linejoin="round">50</text>
<text transform="translate(68.92 825.60) scale(1.0175)" font-family="'Liberation Sans', sans-serif" font-weight="bold" font-size="20" stroke="#000" stroke-width="0.35" stroke-linejoin="round">40</text>
<text transform="translate(68.92 856.00) scale(1.0175)" font-family="'Liberation Sans', sans-serif" font-weight="bold" font-size="20" stroke="#000" stroke-width="0.35" stroke-linejoin="round">30</text>
<text transform="translate(68.92 886.70) scale(1.0175)" font-family="'Liberation Sans', sans-serif" font-weight="bold" font-size="20" stroke="#000" stroke-width="0.35" stroke-linejoin="round">20</text>
<text transform="translate(68.92 918.30) scale(1.0175)" font-family="'Liberation Sans', sans-serif" font-weight="bold" font-size="20" stroke="#000" stroke-width="0.35" stroke-linejoin="round">10</text>
<text transform="translate(80.12 948.40) scale(1.0175)" font-family="'Liberation Sans', sans-serif" font-weight="bold" font-size="20" stroke="#000" stroke-width="0.35" stroke-linejoin="round">0</text>
<text transform="translate(62.05 979.00) scale(1.0175)" font-family="'Liberation Sans', sans-serif" font-weight="bold" font-size="20" stroke="#000" stroke-width="0.35" stroke-linejoin="round">-10</text>
<text transform="translate(62.05 1010.10) scale(1.0175)" font-family="'Liberation Sans', sans-serif" font-weight="bold" font-size="20" stroke="#000" stroke-width="0.35" stroke-linejoin="round">-20</text>
<text transform="translate(62.05 1040.70) scale(1.0175)" font-family="'Liberation Sans', sans-serif" font-weight="bold" font-size="20" stroke="#000" stroke-width="0.35" stroke-linejoin="round">-30</text>
<text transform="translate(62.05 1072.00) scale(1.0175)" font-family="'Liberation Sans', sans-serif" font-weight="bold" font-size="20" stroke="#000" stroke-width="0.35" stroke-linejoin="round">-40</text>
<text transform="translate(62.05 1103.30) scale(1.0175)" font-family="'Liberation Sans', sans-serif" font-weight="bold" font-size="20" stroke="#000" stroke-width="0.35" stroke-linejoin="round">-50</text>
<text transform="translate(95.23 1118.64) scale(1.0246)" font-family="'Liberation Sans', sans-serif" font-weight="bold" font-size="20" stroke="#000" stroke-width="0.35" stroke-linejoin="round">20</text>
<text transform="translate(173.36 1118.64) scale(1.0246)" font-family="'Liberation Sans', sans-serif" font-weight="bold" font-size="20" stroke="#000" stroke-width="0.35" stroke-linejoin="round">30</text>
<text transform="translate(251.26 1118.64) scale(1.0246)" font-family="'Liberation Sans', sans-serif" font-weight="bold" font-size="20" stroke="#000" stroke-width="0.35" stroke-linejoin="round">40</text>
<text transform="translate(334.43 1118.64) scale(1.0246)" font-family="'Liberation Sans', sans-serif" font-weight="bold" font-size="20" stroke="#000" stroke-width="0.35" stroke-linejoin="round">50</text>
<text transform="translate(412.13 1118.64) scale(1.0246)" font-family="'Liberation Sans', sans-serif" font-weight="bold" font-size="20" stroke="#000" stroke-width="0.35" stroke-linejoin="round">60</text>
<text transform="translate(490.00 1118.64) scale(1.0246)" font-family="'Liberation Sans', sans-serif" font-weight="bold" font-size="20" stroke="#000" stroke-width="0.35" stroke-linejoin="round">70</text>
<text transform="translate(531.40 836.94) scale(0.8561 1.0310)" font-family="'Liberation Sans', sans-serif" font-weight="normal" font-size="25" stroke="#000" stroke-width="0.6" stroke-linejoin="round">E</text>
<text transform="translate(141.20 1077.84) scale(1.0021 1.0246)" font-family="'Liberation Sans', sans-serif" font-weight="bold" font-size="20" stroke="#000" stroke-width="0.35" stroke-linejoin="round">TRITAN</text>
<text transform="translate(427.49 795.16) scale(1.6098 1.0746)" font-family="'Liberation Sans', sans-serif" font-weight="normal" font-size="23" stroke="#000" stroke-width="0.2" stroke-linejoin="round">μ</text>
<text transform="translate(447.30 801.80) scale(0.8780 1.0298)" font-family="'Liberation Sans', sans-serif" font-weight="normal" font-size="17" stroke="#000" stroke-width="0.1" stroke-linejoin="round">D</text>
<text transform="translate(463.99 794.92) scale(1.0824 1.0824)" font-family="'Liberation Sans', sans-serif" font-weight="normal" font-size="17" stroke="#000" stroke-width="0.1" stroke-linejoin="round">+</text>
<text transform="translate(480.37 794.80) scale(1.0270 1.0286)" font-family="'Liberation Sans', sans-serif" font-weight="normal" font-size="20" stroke="#000" stroke-width="0.1" stroke-linejoin="round">2</text>
<text transform="translate(493.97 794.30) scale(0.8459 1.0080)" font-family="'DejaVu Sans', sans-serif" font-weight="bold" font-size="22" stroke="#000" stroke-width="0.2" stroke-linejoin="round">σ</text>
<text transform="translate(477.89 904.46) scale(1.6098 1.0746)" font-family="'Liberation Sans', sans-serif" font-weight="normal" font-size="23" stroke="#000" stroke-width="0.2" stroke-linejoin="round">μ</text>
<text transform="translate(497.70 911.10) scale(0.8780 1.0298)" font-family="'Liberation Sans', sans-serif" font-weight="normal" font-size="17" stroke="#000" stroke-width="0.1" stroke-linejoin="round">D</text>
<text transform="translate(427.69 1009.76) scale(1.6098 1.0746)" font-family="'Liberation Sans', sans-serif" font-weight="normal" font-size="23" stroke="#000" stroke-width="0.2" stroke-linejoin="round">μ</text>
<text transform="translate(447.50 1016.40) scale(0.8780 1.0298)" font-family="'Liberation Sans', sans-serif" font-weight="normal" font-size="17" stroke="#000" stroke-width="0.1" stroke-linejoin="round">D</text>
<text transform="translate(464.90 1010.33) scale(1.0133 1.0667)" font-family="'Liberation Sans', sans-serif" font-weight="normal" font-size="20" stroke="#000" stroke-width="0.1" stroke-linejoin="round">–</text>
<text transform="translate(480.57 1009.40) scale(1.0270 1.0286)" font-family="'Liberation Sans', sans-serif" font-weight="normal" font-size="20" stroke="#000" stroke-width="0.1" stroke-linejoin="round">2</text>
<text transform="translate(494.17 1008.90) scale(0.8459 1.0080)" font-family="'DejaVu Sans', sans-serif" font-weight="bold" font-size="22" stroke="#000" stroke-width="0.2" stroke-linejoin="round">σ</text>
<text transform="translate(687.92 795.90) scale(1.0175)" font-family="'Liberation Sans', sans-serif" font-weight="bold" font-size="20" stroke="#000" stroke-width="0.35" stroke-linejoin="round">50</text>
<text transform="translate(687.92 825.60) scale(1.0175)" font-family="'Liberation Sans', sans-serif" font-weight="bold" font-size="20" stroke="#000" stroke-width="0.35" stroke-linejoin="round">40</text>
<text transform="translate(687.92 857.00) scale(1.0175)" font-family="'Liberation Sans', sans-serif" font-weight="bold" font-size="20" stroke="#000" stroke-width="0.35" stroke-linejoin="round">30</text>
<text transform="translate(687.92 888.60) scale(1.0175)" font-family="'Liberation Sans', sans-serif" font-weight="bold" font-size="20" stroke="#000" stroke-width="0.35" stroke-linejoin="round">20</text>
<text transform="translate(687.92 918.30) scale(1.0175)" font-family="'Liberation Sans', sans-serif" font-weight="bold" font-size="20" stroke="#000" stroke-width="0.35" stroke-linejoin="round">10</text>
<text transform="translate(699.12 949.70) scale(1.0175)" font-family="'Liberation Sans', sans-serif" font-weight="bold" font-size="20" stroke="#000" stroke-width="0.35" stroke-linejoin="round">0</text>
<text transform="translate(681.05 981.60) scale(1.0175)" font-family="'Liberation Sans', sans-serif" font-weight="bold" font-size="20" stroke="#000" stroke-width="0.35" stroke-linejoin="round">-10</text>
<text transform="translate(681.05 1010.90) scale(1.0175)" font-family="'Liberation Sans', sans-serif" font-weight="bold" font-size="20" stroke="#000" stroke-width="0.35" stroke-linejoin="round">-20</text>
<text transform="translate(681.05 1042.70) scale(1.0175)" font-family="'Liberation Sans', sans-serif" font-weight="bold" font-size="20" stroke="#000" stroke-width="0.35" stroke-linejoin="round">-30</text>
<text transform="translate(681.05 1074.10) scale(1.0175)" font-family="'Liberation Sans', sans-serif" font-weight="bold" font-size="20" stroke="#000" stroke-width="0.35" stroke-linejoin="round">-40</text>
<text transform="translate(681.05 1103.60) scale(1.0175)" font-family="'Liberation Sans', sans-serif" font-weight="bold" font-size="20" stroke="#000" stroke-width="0.35" stroke-linejoin="round">-50</text>
<text transform="translate(713.73 1118.64) scale(1.0246)" font-family="'Liberation Sans', sans-serif" font-weight="bold" font-size="20" stroke="#000" stroke-width="0.35" stroke-linejoin="round">20</text>
<text transform="translate(791.76 1118.64) scale(1.0246)" font-family="'Liberation Sans', sans-serif" font-weight="bold" font-size="20" stroke="#000" stroke-width="0.35" stroke-linejoin="round">30</text>
<text transform="translate(869.56 1118.64) scale(1.0246)" font-family="'Liberation Sans', sans-serif" font-weight="bold" font-size="20" stroke="#000" stroke-width="0.35" stroke-linejoin="round">40</text>
<text transform="translate(952.93 1118.64) scale(1.0246)" font-family="'Liberation Sans', sans-serif" font-weight="bold" font-size="20" stroke="#000" stroke-width="0.35" stroke-linejoin="round">50</text>
<text transform="translate(1030.33 1118.64) scale(1.0246)" font-family="'Liberation Sans', sans-serif" font-weight="bold" font-size="20" stroke="#000" stroke-width="0.35" stroke-linejoin="round">60</text>
<text transform="translate(1108.40 1118.64) scale(1.0246)" font-family="'Liberation Sans', sans-serif" font-weight="bold" font-size="20" stroke="#000" stroke-width="0.35" stroke-linejoin="round">70</text>
<text transform="translate(1146.74 837.04) scale(0.8941 1.0310)" font-family="'Liberation Sans', sans-serif" font-weight="normal" font-size="25" stroke="#000" stroke-width="0.6" stroke-linejoin="round">F</text>
<text transform="translate(757.70 1077.55) scale(0.9965 1.0105)" font-family="'Liberation Sans', sans-serif" font-weight="bold" font-size="20" stroke="#000" stroke-width="0.35" stroke-linejoin="round">TRITAN</text>
<text transform="translate(1044.19 822.86) scale(1.6098 1.0746)" font-family="'Liberation Sans', sans-serif" font-weight="normal" font-size="23" stroke="#000" stroke-width="0.2" stroke-linejoin="round">μ</text>
<text transform="translate(1064.00 829.50) scale(0.8780 1.0298)" font-family="'Liberation Sans', sans-serif" font-weight="normal" font-size="17" stroke="#000" stroke-width="0.1" stroke-linejoin="round">D</text>
<text transform="translate(1080.69 822.62) scale(1.0824 1.0824)" font-family="'Liberation Sans', sans-serif" font-weight="normal" font-size="17" stroke="#000" stroke-width="0.1" stroke-linejoin="round">+</text>
<text transform="translate(1097.07 822.50) scale(1.0270 1.0286)" font-family="'Liberation Sans', sans-serif" font-weight="normal" font-size="20" stroke="#000" stroke-width="0.1" stroke-linejoin="round">2</text>
<text transform="translate(1110.67 822.00) scale(0.8459 1.0080)" font-family="'DejaVu Sans', sans-serif" font-weight="bold" font-size="22" stroke="#000" stroke-width="0.2" stroke-linejoin="round">σ</text>
<text transform="translate(1094.59 932.46) scale(1.6098 1.0746)" font-family="'Liberation Sans', sans-serif" font-weight="normal" font-size="23" stroke="#000" stroke-width="0.2" stroke-linejoin="round">μ</text>
<text transform="translate(1114.40 939.10) scale(0.8780 1.0298)" font-family="'Liberation Sans', sans-serif" font-weight="normal" font-size="17" stroke="#000" stroke-width="0.1" stroke-linejoin="round">D</text>
<text transform="translate(1044.09 1036.06) scale(1.6098 1.0746)" font-family="'Liberation Sans', sans-serif" font-weight="normal" font-size="23" stroke="#000" stroke-width="0.2" stroke-linejoin="round">μ</text>
<text transform="translate(1063.90 1042.70) scale(0.8780 1.0298)" font-family="'Liberation Sans', sans-serif" font-weight="normal" font-size="17" stroke="#000" stroke-width="0.1" stroke-linejoin="round">D</text>
<text transform="translate(1081.30 1036.63) scale(1.0133 1.0667)" font-family="'Liberation Sans', sans-serif" font-weight="normal" font-size="20" stroke="#000" stroke-width="0.1" stroke-linejoin="round">–</text>
<text transform="translate(1096.97 1035.70) scale(1.0270 1.0286)" font-family="'Liberation Sans', sans-serif" font-weight="normal" font-size="20" stroke="#000" stroke-width="0.1" stroke-linejoin="round">2</text>
<text transform="translate(1110.57 1035.20) scale(0.8459 1.0080)" font-family="'DejaVu Sans', sans-serif" font-weight="bold" font-size="22" stroke="#000" stroke-width="0.2" stroke-linejoin="round">σ</text>
</g></svg></body></html>
